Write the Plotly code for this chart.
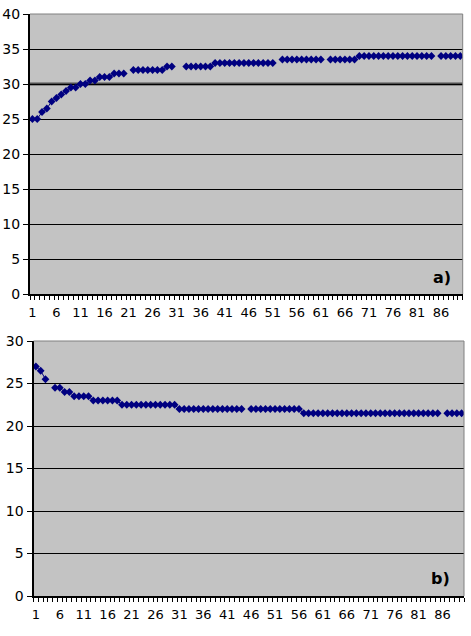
import plotly.graph_objects as go

# ---- data ----
runs = list(range(1, 91))

series_a = [25, 25, 26, 26.5, 27.5, 28, 28.5, 29, 29.5, 29.5,
            30, 30, 30.5, 30.5, 31, 31, 31, 31.5, 31.5, 31.5,
            None, 32, 32, 32, 32, 32, 32, 32, 32.5, 32.5,
            None, None, 32.5, 32.5, 32.5, 32.5, 32.5, 32.5, 33, 33,
            33, 33, 33, 33, 33, 33, 33, 33, 33, 33,
            33, None, 33.5, 33.5, 33.5, 33.5, 33.5, 33.5, 33.5, 33.5,
            33.5, None, 33.5, 33.5, 33.5, 33.5, 33.5, 33.5, 34, 34,
            34, 34, 34, 34, 34, 34, 34, 34, 34, 34,
            34, 34, 34, 34, None, 34, 34, 34, 34, 34]

series_b = [27, 26.5, 25.5, None, 24.5, 24.5, 24, 24, 23.5, 23.5,
            23.5, 23.5, 23, 23, 23, 23, 23, 23, 22.5, 22.5,
            22.5, 22.5, 22.5, 22.5, 22.5, 22.5, 22.5, 22.5, 22.5, 22.5,
            22, 22, 22, 22, 22, 22, 22, 22, 22, 22,
            22, 22, 22, 22, None, 22, 22, 22, 22, 22,
            22, 22, 22, 22, 22, 22, 21.5, 21.5, 21.5, 21.5,
            21.5, 21.5, 21.5, 21.5, 21.5, 21.5, 21.5, 21.5, 21.5, 21.5,
            21.5, 21.5, 21.5, 21.5, 21.5, 21.5, 21.5, 21.5, 21.5, 21.5,
            21.5, 21.5, 21.5, 21.5, 21.5, None, 21.5, 21.5, 21.5, 21.5]

x_tick_vals = [1, 6, 11, 16, 21, 26, 31, 36, 41, 46, 51, 56, 61, 66, 71, 76, 81, 86]
x_tick_text = ["1", "6", "11", "16", "21", "26", "31", "36", "41", "46", "51",
               "56", "61", "66", "71", "76", "81", "86"]
y_ticks_a = [0, 5, 10, 15, 20, 25, 30, 35, 40]
y_ticks_b = [0, 5, 10, 15, 20, 25, 30]
panel_labels = ["a)", "b)"]

# ---- style ----
W, H = 471, 636
NAVY = "#000080"
BG = "#C3C3C3"
FONT = "DejaVu Sans"

fig = go.Figure()
marker = dict(symbol="diamond", size=6, color=NAVY)
fig.add_trace(go.Scatter(x=runs, y=series_a, mode="lines+markers", xaxis="x", yaxis="y",
                         line=dict(color=NAVY, width=1), marker=marker,
                         connectgaps=False, showlegend=False))
fig.add_trace(go.Scatter(x=runs, y=series_b, mode="lines+markers", xaxis="x2", yaxis="y2",
                         line=dict(color=NAVY, width=1), marker=marker,
                         connectgaps=False, showlegend=False))


def xaxis(domain, anchor):
    return dict(domain=domain, anchor=anchor, range=[0.5, 90.5], automargin=False,
                tickmode="array", tickvals=x_tick_vals, ticktext=x_tick_text,
                ticks="outside", ticklen=5, tickcolor="rgba(0,0,0,0)",
                minor=dict(tickmode="linear", tick0=0.5, dtick=1, ticks="outside",
                           ticklen=4, tickcolor="black", tickwidth=1, showgrid=False),
                showline=True, linecolor="black", linewidth=2, showgrid=False,
                zeroline=False, tickfont=dict(family=FONT, size=13, color="black"))


def yaxis(domain, anchor, ticks, top):
    return dict(domain=domain, anchor=anchor, range=[0, top], tickmode="array",
                automargin=False,
                tickvals=ticks, ticks="outside", ticklen=5, tickcolor="black",
                showline=True, linecolor="black", linewidth=2,
                showgrid=True, gridcolor="black", gridwidth=1, zeroline=False,
                tickfont=dict(family=FONT, size=14, color="black"))


fig.update_layout(
    width=W, height=H, margin=dict(l=0, r=0, t=0, b=0, autoexpand=False),
    paper_bgcolor="white", plot_bgcolor=BG,
    xaxis=xaxis([30 / W, 462.7 / W], "y"),
    yaxis=yaxis([1 - 294 / H, 1 - 14 / H], "x", y_ticks_a, 40),
    xaxis2=xaxis([33.5 / W, 464 / W], "y2"),
    yaxis2=yaxis([1 - 596 / H, 1 - 341 / H], "x2", y_ticks_b, 30),
)

# gray plot-area border on top and right; heavier gridline at 30 in panel a
shapes = []
for xr, yr in (("x domain", "y domain"), ("x2 domain", "y2 domain")):
    shapes.append(dict(type="line", xref=xr, yref=yr, x0=0, x1=1, y0=1, y1=1,
                       line=dict(color="#808080", width=1), layer="above"))
    shapes.append(dict(type="line", xref=xr, yref=yr, x0=1, x1=1, y0=0, y1=1,
                       line=dict(color="#808080", width=1), layer="above"))
shapes.append(dict(type="line", xref="x domain", yref="y", x0=0, x1=1,
                   y0=y_ticks_a[6], y1=y_ticks_a[6],
                   line=dict(color="#505050", width=3), layer="below"))
fig.update_layout(shapes=shapes)

fig.add_annotation(text=panel_labels[0], xref="x domain", yref="y domain",
                   x=0.978, y=0.06, xanchor="right", yanchor="middle", showarrow=False,
                   font=dict(family=FONT, size=16, color="black", weight="bold"))
fig.add_annotation(text=panel_labels[1], xref="x2 domain", yref="y2 domain",
                   x=0.971, y=0.07, xanchor="right", yanchor="middle", showarrow=False,
                   font=dict(family=FONT, size=16, color="black", weight="bold"))

fig.write_html("out.html", config={"displayModeBar": False},
               post_script="document.body.style.margin='0';document.body.style.overflow='hidden';")
